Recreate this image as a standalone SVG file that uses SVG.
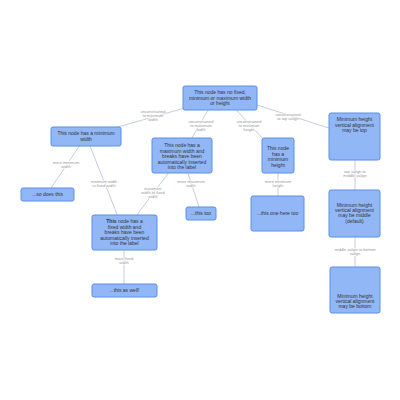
<svg xmlns="http://www.w3.org/2000/svg" width="400" height="400" viewBox="0 0 400 400">
<style>
.n rect{fill:#92b7f7;stroke:#5b8ee6;stroke-width:1}
.n text{font-family:"Liberation Sans",Arial,sans-serif;font-size:5px;fill:#333;text-anchor:middle}
#edges line{stroke:#b3c0dc;stroke-width:0.8}
.l{font-family:"Liberation Sans",Arial,sans-serif;font-size:4px;fill:#999;text-anchor:middle;stroke:#fff;stroke-width:1.2;paint-order:stroke;stroke-linejoin:round}
</style>
<rect width="400" height="400" fill="#fff"/>
<g id="edges">
<line x1="220" y1="98" x2="86" y2="136"/>
<line x1="215" y1="98" x2="182" y2="155"/>
<line x1="225" y1="98" x2="278" y2="155"/>
<line x1="235" y1="98" x2="354" y2="136"/>
<line x1="86" y1="136" x2="47" y2="194"/>
<line x1="86" y1="136" x2="124" y2="232"/>
<line x1="182" y1="155" x2="124" y2="232"/>
<line x1="182" y1="155" x2="201" y2="213"/>
<line x1="278" y1="155" x2="278" y2="213"/>
<line x1="355" y1="136" x2="355" y2="213"/>
<line x1="355" y1="213" x2="355" y2="290"/>
<line x1="124" y1="232" x2="124" y2="290"/>
<text class="l" x="153" y="113">unconstrained<tspan x="153" dy="4">to minimum</tspan><tspan x="153" dy="4">width</tspan></text>
<text class="l" x="201" y="123">unconstrained<tspan x="201" dy="4">to maximum</tspan><tspan x="201" dy="4">width</tspan></text>
<text class="l" x="249" y="123">unconstrained<tspan x="249" dy="4">to minimum</tspan><tspan x="249" dy="4">height</tspan></text>
<text class="l" x="288" y="116">unconstrained<tspan x="288" dy="4">to top valign</tspan></text>
<text class="l" x="66" y="164">more minimum<tspan x="66" dy="4">width</tspan></text>
<text class="l" x="104" y="183">minimum width<tspan x="104" dy="4">to fixed width</tspan></text>
<text class="l" x="153" y="190">maximum<tspan x="153" dy="4">width to fixed</tspan><tspan x="153" dy="4">width</tspan></text>
<text class="l" x="191" y="183">more maximum<tspan x="191" dy="4">width</tspan></text>
<text class="l" x="278" y="183">more minimum<tspan x="278" dy="4">height</tspan></text>
<text class="l" x="355" y="173">top valign to<tspan x="355" dy="4">middle valign</tspan></text>
<text class="l" x="355" y="251">middle valign to bottom<tspan x="355" dy="4">valign</tspan></text>
<text class="l" x="124" y="260">more fixed<tspan x="124" dy="4">width</tspan></text>
</g>
<g id="root" class="n"><rect x="183" y="86" width="74" height="24" rx="2"/>
<text x="220" y="94">This node has no fixed,<tspan x="220" dy="5.5">minimum or maximum width</tspan><tspan x="220" dy="5.5">or height</tspan></text></g>
<g id="minwidth" class="n"><rect x="51" y="127" width="70" height="19" rx="2"/>
<text x="86" y="135">This node has a minimum<tspan x="86" dy="5.5">width</tspan></text></g>
<g id="sodoes" class="n"><rect x="21" y="188" width="53" height="13" rx="2"/>
<text x="47.5" y="196">...so does this</text></g>
<g id="maxwidth" class="n"><rect x="152" y="138" width="60" height="35" rx="2"/>
<text x="182" y="147">This node has a<tspan x="182" dy="5.5">maximum width and</tspan><tspan x="182" dy="5.5">breaks have been</tspan><tspan x="182" dy="5.5">automatically inserted</tspan><tspan x="182" dy="5.5">into the label</tspan></text></g>
<g id="thistoo" class="n"><rect x="186" y="207" width="30" height="13" rx="2"/>
<text x="201" y="215">...this too</text></g>
<g id="minheight" class="n"><rect x="262" y="138" width="32" height="35" rx="2"/>
<text x="278" y="150">This node<tspan x="278" dy="5.5">has a</tspan><tspan x="278" dy="5.5">minimum</tspan><tspan x="278" dy="5.5">height</tspan></text></g>
<g id="oneheretoo" class="n"><rect x="251" y="196" width="53" height="35" rx="2"/>
<text x="277.5" y="215">...this one here too</text></g>
<g id="top" class="n"><rect x="329" y="113" width="51" height="47" rx="2"/>
<text x="354.5" y="121">Minimum height<tspan x="354.5" dy="5.5">vertical alignment</tspan><tspan x="354.5" dy="5.5">may be top</tspan></text></g>
<g id="middle" class="n"><rect x="329" y="190" width="51" height="47" rx="2"/>
<text x="354.5" y="207">Minimum height<tspan x="354.5" dy="5.2">vertical alignment</tspan><tspan x="354.5" dy="5.2">may be middle</tspan><tspan x="354.5" dy="5.2">(default)</tspan></text></g>
<g id="bottom" class="n"><rect x="330" y="267" width="50" height="46" rx="2"/>
<text x="355" y="298">Minimum height<tspan x="355" dy="5">vertical alignment</tspan><tspan x="355" dy="5">may be bottom</tspan></text></g>
<g id="fixedwidth" class="n"><rect x="92" y="215" width="65" height="35" rx="2"/>
<text x="124.5" y="223"><tspan font-weight="bold">This</tspan> node has a<tspan x="124.5" dy="5.5">fixed width and</tspan><tspan x="124.5" dy="5.5">breaks have been</tspan><tspan x="124.5" dy="5.5">automatically inserted</tspan><tspan x="124.5" dy="5.5">into the label</tspan></text></g>
<g id="aswell" class="n"><rect x="92" y="284" width="65" height="13" rx="2"/>
<text x="124.5" y="292">...this as well!</text></g>
</svg>
